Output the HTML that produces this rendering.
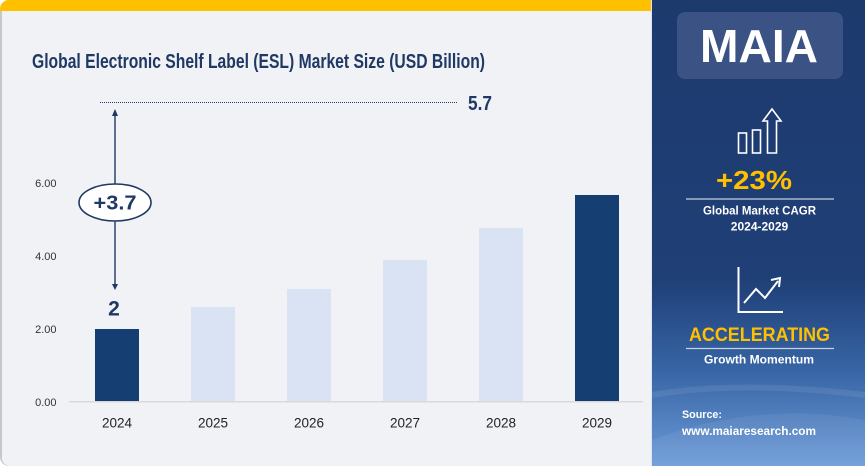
<!DOCTYPE html>
<html><head><meta charset="utf-8"><style>
html,body{margin:0;padding:0;background:#fff;width:865px;height:468px;overflow:hidden}
svg{display:block}
text{font-family:"Liberation Sans",sans-serif}
</style></head><body>
<svg width="865" height="468" viewBox="0 0 865 468" xmlns="http://www.w3.org/2000/svg">
<defs>
<linearGradient id="pg" x1="0" y1="0" x2="0" y2="1">
<stop offset="0" stop-color="#1d3a6d"/>
<stop offset="0.6" stop-color="#1f3f77"/>
<stop offset="0.8" stop-color="#3866a6"/>
<stop offset="1" stop-color="#6d9bd8"/>
</linearGradient>
<clipPath id="cc"><rect x="0" y="0" width="660" height="466" rx="9"/></clipPath>
</defs>
<!-- left card -->
<g clip-path="url(#cc)">
<rect x="0" y="0" width="660" height="466" fill="#c8c8c8"/>
<rect x="2" y="0" width="660" height="466" rx="8" fill="#f0f2f6"/>
<rect x="0" y="0" width="660" height="11" fill="#ffc000"/>
</g>
<!-- right panel -->
<rect x="652" y="0" width="213" height="466" fill="url(#pg)"/>
<path d="M652 440 Q760 400 865 420 L865 466 L652 466 Z" fill="#ffffff" opacity="0.06"/>
<path d="M652 395 Q740 380 865 395" stroke="#ffffff" stroke-opacity="0.08" stroke-width="6" fill="none"/>
<line x1="651.5" y1="0" x2="651.5" y2="466" stroke="#dfe4ec" stroke-width="1"/>

<!-- title -->
<text x="32" y="68" font-size="20" font-weight="bold" fill="#1f3864" textLength="453" lengthAdjust="spacingAndGlyphs">Global Electronic Shelf Label (ESL) Market Size (USD  Billion)</text>

<!-- dotted line and 5.7 -->
<line x1="100" y1="102.5" x2="458" y2="102.5" stroke="#1f3864" stroke-width="1" stroke-dasharray="1 1"/>
<text x="468" y="110" font-size="20" font-weight="bold" fill="#1f3864" textLength="24" lengthAdjust="spacingAndGlyphs">5.7</text>

<!-- y ticks -->
<g font-size="11" fill="#333" text-anchor="end">
<text x="56.5" y="187">6.00</text>
<text x="56.5" y="260">4.00</text>
<text x="56.5" y="333">2.00</text>
<text x="56.5" y="406">0.00</text>
</g>

<!-- bars -->
<rect x="95" y="329" width="44" height="73" fill="#153e72"/>
<rect x="191" y="307" width="44" height="95" fill="#dae3f3"/>
<rect x="287" y="289" width="44" height="113" fill="#dae3f3"/>
<rect x="383" y="260" width="44" height="142" fill="#dae3f3"/>
<rect x="479" y="228" width="44" height="174" fill="#dae3f3"/>
<rect x="575" y="195" width="44" height="207" fill="#153e72"/>
<line x1="69" y1="401.8" x2="643" y2="401.8" stroke="#d9d9d9" stroke-width="1.5"/>

<!-- x labels -->
<g font-size="13.5" fill="#222" text-anchor="middle">
<text x="117" y="427.5">2024</text>
<text x="213" y="427.5">2025</text>
<text x="309" y="427.5">2026</text>
<text x="405" y="427.5">2027</text>
<text x="501" y="427.5">2028</text>
<text x="597" y="427.5">2029</text>
</g>

<!-- arrows and ellipse -->
<line x1="115" y1="113" x2="115" y2="184" stroke="#1f3864" stroke-width="1.4"/>
<path d="M112 116 L115 109 L118 116 Z" fill="#1f3864"/>
<line x1="115" y1="221" x2="115" y2="285" stroke="#1f3864" stroke-width="1.4"/>
<path d="M112 284 L115 290 L118 284 Z" fill="#1f3864"/>
<ellipse cx="115" cy="202.5" rx="36" ry="18.5" fill="#fff" stroke="#1f3864" stroke-width="1.6"/>
<text x="115" y="209.5" font-size="20" font-weight="bold" fill="#1f3864" text-anchor="middle" textLength="43" lengthAdjust="spacingAndGlyphs">+3.7</text>
<text x="114" y="315.5" font-size="21" font-weight="bold" fill="#1f3864" text-anchor="middle">2</text>

<!-- MAIA box -->
<rect x="677" y="12" width="166" height="67" rx="8" fill="#3a5284"/>
<text x="759" y="62" font-size="46" font-weight="bold" fill="#fff" text-anchor="middle" textLength="118" lengthAdjust="spacingAndGlyphs">MAIA</text>

<!-- growth icon -->
<g stroke="#fff" stroke-width="1.6" fill="none">
<rect x="738.5" y="133" width="8" height="20"/>
<rect x="752.5" y="130" width="8" height="23"/>
<path d="M767.5 153 L767.5 121 L763 121 L772 109 L781 121 L776.5 121 L776.5 153 Z"/>
</g>
<text x="754" y="189" font-size="26" font-weight="bold" fill="#ffc000" text-anchor="middle" textLength="76" lengthAdjust="spacingAndGlyphs">+23%</text>
<line x1="686" y1="199" x2="834" y2="199" stroke="#c8d0e0" stroke-width="1.2"/>
<text x="759.5" y="214.5" font-size="12" font-weight="bold" fill="#fff" text-anchor="middle" textLength="113" lengthAdjust="spacingAndGlyphs">Global Market CAGR</text>
<text x="759.5" y="230.5" font-size="12" font-weight="bold" fill="#fff" text-anchor="middle">2024-2029</text>

<!-- chart icon -->
<g stroke="#fff" stroke-width="2" fill="none" stroke-linejoin="miter">
<path d="M738.5 267 L738.5 312 L783 312"/>
<path d="M744 303 L756 289 L765 298 L778 281"/>
<path d="M771 280 L780 278 L779 287"/>
</g>
<text x="759.5" y="341" font-size="19" font-weight="bold" fill="#ffc000" text-anchor="middle" textLength="141" lengthAdjust="spacingAndGlyphs">ACCELERATING</text>
<line x1="686" y1="348.5" x2="834" y2="348.5" stroke="#c8d0e0" stroke-width="1.2"/>
<text x="759" y="363.5" font-size="12" font-weight="bold" fill="#fff" text-anchor="middle" textLength="110" lengthAdjust="spacingAndGlyphs">Growth Momentum</text>

<text x="682" y="418" font-size="11" font-weight="bold" fill="#fff" textLength="40" lengthAdjust="spacingAndGlyphs">Source:</text>
<text x="682" y="435" font-size="11.5" font-weight="bold" fill="#fff" textLength="134" lengthAdjust="spacingAndGlyphs">www.maiaresearch.com</text>
</svg>
</body></html>
